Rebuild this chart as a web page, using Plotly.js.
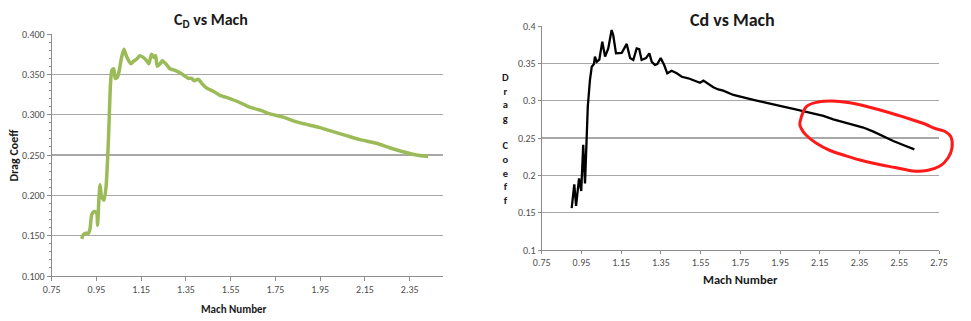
<!DOCTYPE html>
<html>
<head>
<meta charset="utf-8">
<script src="https://cdn.plot.ly/plotly-3.0.1.min.js"></script>
<style>html,body{margin:0;padding:0;background:#fff;}#chart{width:971px;height:321px;}</style>
</head>
<body>
<div id="chart"></div>
<script>
// Left chart: C_D vs Mach (green, smoothed)
const machLeft = [0.884,0.891,0.903,0.914,0.921,0.929,0.940,0.951,0.955,0.960,0.966,0.973,0.984,0.993,1.003,1.013,1.019,1.027,1.034,1.043,1.052,1.063,1.073,1.082,1.092,1.104,1.115,1.130,1.144,1.159,1.174,1.184,1.196,1.206,1.214,1.222,1.234,1.244,1.256,1.266,1.278,1.301,1.323,1.345,1.360,1.375,1.387,1.405,1.420,1.442,1.472,1.502,1.546,1.583,1.621,1.650,1.688,1.725,1.784,1.844,1.888,1.948,2.007,2.067,2.127,2.201,2.260,2.320,2.380,2.432];
const cdLeft = [0.146,0.151,0.153,0.153,0.158,0.176,0.180,0.178,0.163,0.190,0.213,0.198,0.194,0.211,0.265,0.339,0.355,0.357,0.345,0.346,0.355,0.372,0.381,0.374,0.368,0.363,0.366,0.369,0.373,0.371,0.367,0.363,0.375,0.371,0.373,0.360,0.363,0.367,0.364,0.361,0.357,0.355,0.352,0.348,0.345,0.345,0.342,0.344,0.339,0.333,0.329,0.324,0.320,0.316,0.311,0.308,0.305,0.301,0.297,0.291,0.288,0.284,0.279,0.274,0.269,0.2645,0.259,0.254,0.250,0.248];

// Right chart: Cd vs Mach (black, jagged)
const machRight = [0.901,0.914,0.923,0.938,0.949,0.959,0.968,0.977,0.982,0.993,1.002,1.013,1.018,1.027,1.040,1.055,1.069,1.085,1.102,1.110,1.124,1.153,1.178,1.195,1.211,1.228,1.241,1.253,1.275,1.292,1.304,1.320,1.332,1.349,1.366,1.382,1.404,1.430,1.455,1.488,1.530,1.547,1.564,1.589,1.614,1.639,1.664,1.715,1.765,1.816,1.866,1.916,1.966,2.017,2.067,2.117,2.168,2.218,2.268,2.319,2.369,2.420,2.470,2.520,2.570,2.626];
const cdRight = [0.156,0.188,0.159,0.196,0.179,0.241,0.189,0.274,0.292,0.328,0.3455,0.349,0.359,0.352,0.355,0.379,0.359,0.370,0.3946,0.388,0.3634,0.364,0.376,0.357,0.3545,0.370,0.369,0.3545,0.357,0.3634,0.352,0.348,0.349,0.357,0.348,0.3366,0.340,0.3366,0.332,0.330,0.3254,0.324,0.3268,0.322,0.318,0.315,0.3134,0.3076,0.304,0.301,0.298,0.2955,0.292,0.289,0.286,0.283,0.2795,0.275,0.2714,0.268,0.264,0.2585,0.2518,0.246,0.2406,0.2348];

// Text
const titleLeft = "C<sub>D</sub> vs Mach";
const titleRight = "Cd vs Mach";
const xTitle = "Mach Number";
const yTitle = "Drag Coeff";

// Hand-drawn red loop (screen pixels of the 971x321 figure) - decoration only
const loopPx = [[800,122],[806,107],[818,102],[832,101],[848,102.5],[865,106],[880,110],[897,115],[913,120],[925,124],[935,128.5],[945,131.5],[951,137],[952,148],[948,158],[940,166],[927,170.5],[913,171],[895,167.5],[877,164],[860,160],[845,155.5],[830,150.5],[816,143],[806,135],[801,128]];

const W = 971, H = 321;
function px2paper(p){ return [p[0]/W, 1 - p[1]/H]; }
function closedSpline(pts){
  const n = pts.length; let d = 'M' + pts[0][0] + ',' + pts[0][1];
  for (let i = 0; i < n; i++){
    const p0 = pts[(i-1+n)%n], p1 = pts[i], p2 = pts[(i+1)%n], p3 = pts[(i+2)%n];
    const c1 = [p1[0] + (p2[0]-p0[0])/6, p1[1] + (p2[1]-p0[1])/6];
    const c2 = [p2[0] - (p3[0]-p1[0])/6, p2[1] - (p3[1]-p1[1])/6];
    d += ' C' + c1[0] + ',' + c1[1] + ' ' + c2[0] + ',' + c2[1] + ' ' + p2[0] + ',' + p2[1];
  }
  return d + ' Z';
}

const FONT = 'Carlito, Lato, "Open Sans", sans-serif';
const axisGray = '#8c8c8c';
const gridGray = '#a8a8a8';
const tickFont = {family: FONT, size: 10, color: '#4d4d4d'};

const traces = [
  {x: machLeft, y: cdLeft, xaxis: 'x', yaxis: 'y', type: 'scatter', mode: 'lines',
   line: {color: '#9bbb59', width: 3.5, shape: 'spline', smoothing: 0.6}, hoverinfo: 'skip'},
  {x: machRight, y: cdRight, xaxis: 'x2', yaxis: 'y2', type: 'scatter', mode: 'lines',
   line: {color: '#000000', width: 2.3}, hoverinfo: 'skip'}
];

const xCommon = {showgrid: false, zeroline: false, showline: true, linecolor: axisGray, linewidth: 1,
  ticks: 'outside', ticklen: 4, tickcolor: axisGray, tickfont: tickFont, tick0: 0.75, dtick: 0.2,
  tickformat: '.2f', fixedrange: true};
const yCommon = {showgrid: true, gridcolor: gridGray, gridwidth: 1.2, zeroline: false, showline: true,
  linecolor: axisGray, linewidth: 1, ticks: 'outside', ticklen: 4, tickcolor: axisGray,
  tickfont: tickFont, tick0: 0.1, dtick: 0.05, range: [0.1, 0.4], fixedrange: true};

const layout = {
  width: W, height: H,
  margin: {l: 0, r: 0, t: 0, b: 0},
  paper_bgcolor: '#ffffff', plot_bgcolor: '#ffffff',
  showlegend: false,
  xaxis: Object.assign({}, xCommon, {domain: [51.7/W, 443.3/W], range: [0.75, 2.5], anchor: 'y'}),
  yaxis: Object.assign({}, yCommon, {domain: [1-276/H, 1-34/H], anchor: 'x', tickformat: '.3f',
    minor: {dtick: 0.01, ticks: 'outside', ticklen: 2, tickcolor: axisGray, showgrid: false}}),
  xaxis2: Object.assign({}, xCommon, {domain: [541.7/W, 939/W], range: [0.75, 2.75], anchor: 'y2', ticklen: 3}),
  yaxis2: Object.assign({}, yCommon, {domain: [1-250/H, 1-26/H], anchor: 'x2', ticklen: 3}),
  annotations: [
    {text: titleLeft, xref: 'paper', yref: 'paper', x: 211/W, y: 1-20/H, xanchor: 'center', yanchor: 'middle',
     showarrow: false, font: {family: FONT, size: 16, color: '#1a1a1a', weight: 'bold'}},
    {text: titleRight, xref: 'paper', yref: 'paper', x: 732/W, y: 1-20/H, xanchor: 'center', yanchor: 'middle',
     showarrow: false, font: {family: FONT, size: 18, color: '#1a1a1a', weight: 'bold'}},
    {text: xTitle, xref: 'paper', yref: 'paper', x: 233.5/W, y: 1-309.5/H, xanchor: 'center', yanchor: 'middle',
     showarrow: false, font: {family: FONT, size: 11, color: '#1a1a1a', weight: 'bold'}},
    {text: xTitle, xref: 'paper', yref: 'paper', x: 740/W, y: 1-279.5/H, xanchor: 'center', yanchor: 'middle',
     showarrow: false, font: {family: FONT, size: 12.5, color: '#1a1a1a', weight: 'bold'}},
    {text: yTitle, xref: 'paper', yref: 'paper', x: 13.5/W, y: 1-155/H, xanchor: 'center', yanchor: 'middle',
     textangle: -90, showarrow: false, font: {family: FONT, size: 12, color: '#1a1a1a', weight: 'bold'}},
    {text: yTitle.split('').map(c => c === ' ' ? '\u00a0' : c).join('<br>'), xref: 'paper', yref: 'paper',
     x: 505/W, y: 1-138.5/H, xanchor: 'center', yanchor: 'middle', align: 'center',
     showarrow: false, font: {family: FONT, size: 10.5, color: '#1a1a1a', weight: 'bold'}}
  ],
  shapes: [
    {type: 'path', xref: 'paper', yref: 'paper', layer: 'above',
     path: closedSpline(loopPx.map(px2paper)),
     line: {color: '#ff1a1a', width: 3}, fillcolor: 'rgba(0,0,0,0)'}
  ]
};

Plotly.newPlot('chart', traces, layout, {displayModeBar: false, staticPlot: true});
</script>
</body>
</html>
